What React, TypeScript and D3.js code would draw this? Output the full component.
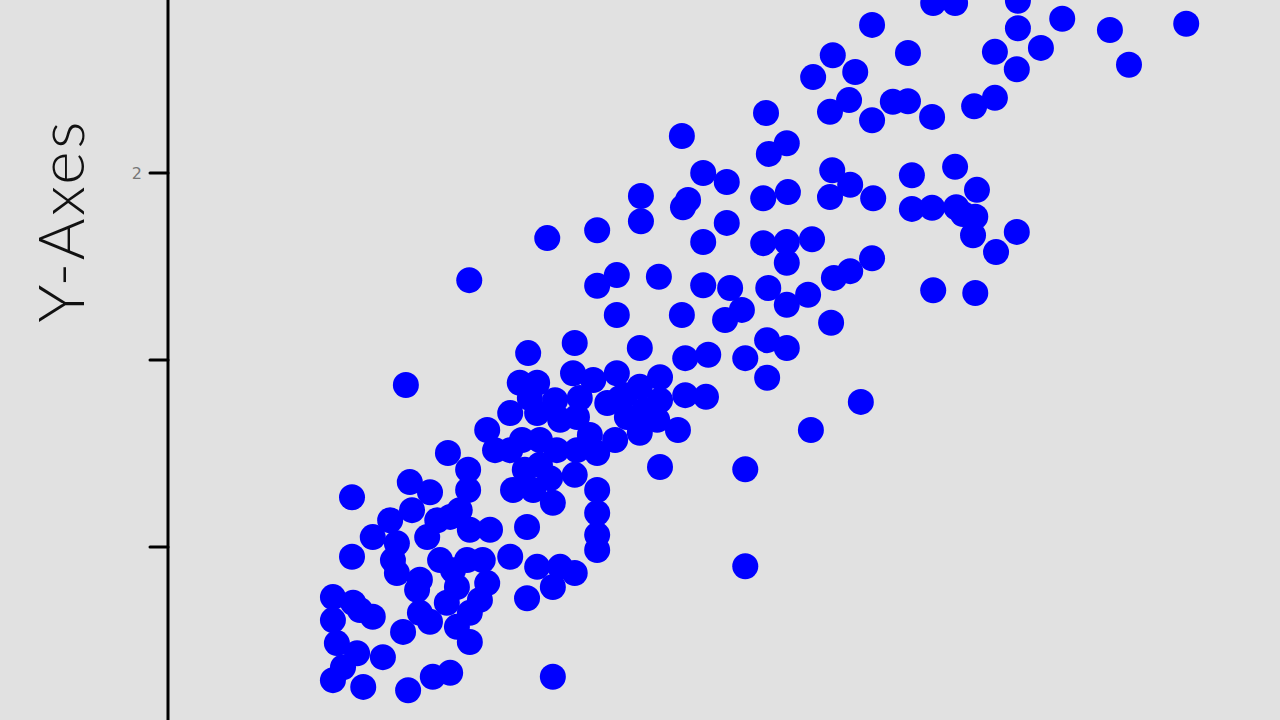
import React from "react";
import * as d3 from "d3";

// Scatter values (x in arbitrary units, y in axis units)
const xValues: number[] = [
  1.364, 1.403, 1.515, 1.255, 1.515, 1.594, 1.679, 1.815, 1.556, 1.474,
  1.513, 1.713, 1.319, 1.225, 1.185, 1.150, 1.214, 1.292, 1.319, 1.255,
  1.362, 1.437, 1.474, 1.180, 1.066, 0.916, 1.103, 1.071, 0.954, 0.996,
  1.061, 1.105, 0.918, 0.927, 0.996, 0.954, 1.061, 1.103, 1.148, 1.103,
  1.184, 1.216, 1.180, 1.257, 1.326, 1.403, 1.326, 1.362, 1.405, 1.442,
  1.439, 1.435, 1.513, 1.476, 1.255, 1.216, 1.187, 1.364, 1.439, 1.417,
  0.843, 0.843, 0.765, 0.676, 0.537, 0.765, 0.800, 0.875, 0.954, 1.002,
  1.023, 0.993, 1.070, 1.103, 1.141, 0.800, 0.916, 1.182, 0.725, 0.841,
  0.922, 0.963, 1.029, 1.068, 1.103, 1.068, 1.146, 1.235, 0.642, 0.424,
  0.627, 0.658, 0.722, 0.758, 0.800, 0.841, 0.877, 0.783, 0.818, 0.841,
  0.872, 0.909, 0.877, 0.610, 0.658, 0.569, 0.699, 0.729, 0.610, 0.663,
  0.693, 0.729, 0.765, 0.615, 0.651, 0.686, 0.765, 0.765, 0.765, 0.765,
  0.640, 0.561, 0.658, 0.699, 0.610, 0.922, 0.959, 0.734, 0.877, 1.029,
  1.029, 0.328, 0.431, 0.467, 0.535, 0.535, 0.499, 0.435, 0.365, 0.408,
  0.328, 0.503, 0.538, 0.574, 0.462, 0.408, 0.449, 0.485, 0.508, 0.533,
  0.569, 0.497, 0.538, 0.515, 0.538, 0.444, 0.449, 0.419, 0.294, 0.294,
  0.342, 0.365, 0.301, 0.337, 0.383, 0.294, 0.348, 0.428, 0.472, 0.503,
  0.686, 0.640, 0.686, 0.725, 0.806, 0.663, 0.681,
  0.645, 0.690, 0.815, 0.850, 0.631, 0.752, 0.797, 0.636, 0.725, 0.583,
  0.396, 0.480, 0.401, 0.515, 0.556, 0.467, 0.330, 0.312, 0.520,
];

const yValues: number[] = [
  2.303, 2.303, 2.307, 2.264, 2.258, 2.275, 2.255, 2.266, 2.223, 2.216,
  2.185, 2.193, 2.214, 2.180, 2.210, 2.171, 2.130, 2.127, 2.128, 2.094,
  2.100, 2.119, 2.134, 2.109, 2.107, 2.066, 2.053, 2.034, 2.000, 1.984,
  1.955, 1.966, 1.939, 1.952, 1.911, 1.877, 1.875, 1.877, 1.882, 1.840,
  2.005, 1.979, 1.957, 1.955, 1.996, 2.011, 1.936, 1.938, 1.939, 1.970,
  1.922, 1.889, 1.895, 1.859, 1.848, 1.825, 1.813, 1.791, 1.786, 1.927,
  1.959, 1.914, 1.898, 1.884, 1.809, 1.799, 1.818, 1.815, 1.800, 1.795,
  1.756, 1.738, 1.795, 1.765, 1.783, 1.747, 1.747, 1.733, 1.697, 1.688,
  1.670, 1.676, 1.670, 1.702, 1.688, 1.635, 1.542, 1.592, 1.679, 1.622,
  1.626, 1.626, 1.643, 1.631, 1.643, 1.619, 1.636, 1.590, 1.565, 1.537,
  1.560, 1.542, 1.476, 1.572, 1.572, 1.542, 1.560, 1.565, 1.506, 1.524,
  1.506, 1.506, 1.501, 1.435, 1.435, 1.412, 1.435, 1.394, 1.355, 1.328,
  1.369, 1.310, 1.298, 1.298, 1.316, 1.604, 1.601, 1.599, 1.595, 1.472,
  1.299, 1.422, 1.449, 1.431, 1.471, 1.435, 1.501, 1.399, 1.351, 1.340,
  1.316, 1.387, 1.364, 1.364, 1.351, 1.287, 1.275, 1.310, 1.292, 1.310,
  1.269, 1.234, 1.216, 1.191, 1.164, 1.257, 1.216, 1.182, 1.244, 1.203,
  1.221, 1.209, 1.162, 1.144, 1.137, 1.096, 1.084, 1.078, 1.102, 1.109,
  1.102, 1.242, 1.262, 1.287, 1.599, 1.480, 1.456,
  1.599, 1.595, 1.604, 1.578, 1.524, 1.533, 1.524, 1.471, 1.462, 1.506,
  1.381, 1.381, 1.310, 1.262, 1.239, 1.200, 1.234, 1.119, 1.399,
];

const yTicks: number[] = [2, 5 / 3, 4 / 3, 1];
const yTitle = "Y-Axes";

const W = 1280;
const H = 720;

export default function App() {
  const x = d3.scaleLinear().domain([0, 2]).range([168, 168 + 2 * 561]);
  const y = d3.scaleLinear().domain([1, 2]).range([734, 173]);
  const points = xValues.map((v, i) => ({ x: v, y: yValues[i] }));
  const fmt = (t: number) => (Math.abs(t - Math.round(t)) < 1e-9 ? d3.format("d")(t) : "");
  const axisX = x(0);

  return (
    <svg
      width={W}
      height={H}
      style={{ position: "absolute", left: 0, top: 0, display: "block" }}
    >
      <rect x={0} y={0} width={W} height={H} fill="#e1e1e1" />
      <line x1={axisX} x2={axisX} y1={0} y2={H} stroke="#000" strokeWidth={3} />
      {yTicks.map((t, i) => (
        <g key={i} transform={`translate(0,${y(t)})`}>
          <line x1={axisX - 18} x2={axisX} y1={0} y2={0} stroke="#000" strokeWidth={3} strokeLinecap="round" />
          <text
            x={axisX - 26}
            y={0}
            dy="0.35em"
            textAnchor="end"
            fontSize={16}
            fill="#777"
            fontFamily="'DejaVu Sans', sans-serif"
          >
            {fmt(t)}
          </text>
        </g>
      ))}
      <text
        transform="translate(84,221) rotate(-90)"
        textAnchor="middle"
        fontSize={64}
        fontWeight={300}
        letterSpacing={2.5}
        fill="#111"
        fontFamily="Lato, 'DejaVu Sans', sans-serif"
      >
        {yTitle}
      </text>
      <g>
        {points.map((p, i) => (
          <circle key={i} cx={x(p.x)} cy={y(p.y)} r={13} fill="#0000ff" />
        ))}
      </g>
    </svg>
  );
}
